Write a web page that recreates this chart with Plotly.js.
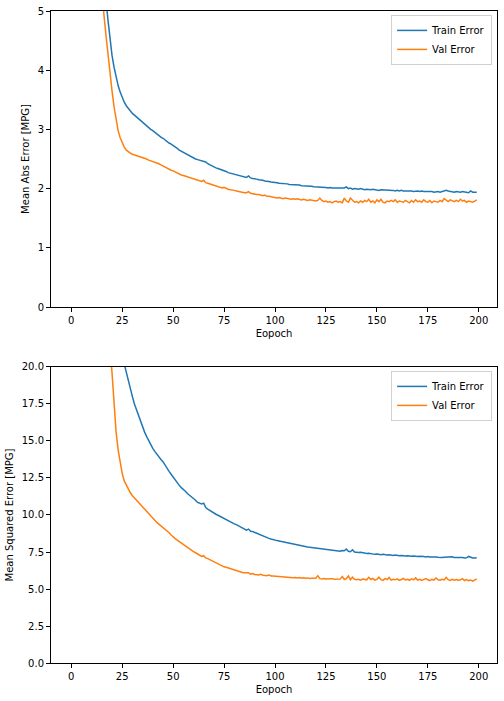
<!DOCTYPE html>
<html>
<head>
<meta charset="utf-8">
<script src="https://cdn.plot.ly/plotly-3.0.1.min.js"></script>
<style>
  html, body { margin: 0; padding: 0; background: #fff; }
  #chart { width: 504px; height: 701px; }
</style>
</head>
<body>
<div id="chart"></div>
<script>
// training history, one value per epoch (0..199)
var trainMae = [
    22.6, 22.2, 21.7, 21.0, 20.1, 19.0, 17.7, 16.2, 14.6, 12.9,
    11.3, 9.8, 8.5, 7.4, 6.6, 6.0, 5.55, 5.2, 4.85, 4.54,
    4.25, 4.05, 3.88, 3.74, 3.63, 3.53, 3.46, 3.40, 3.35, 3.31,
    3.27, 3.24, 3.21, 3.18, 3.15, 3.11, 3.08, 3.05, 3.03, 3.00,
    2.98, 2.95, 2.93, 2.90, 2.87, 2.85, 2.82, 2.80, 2.77, 2.75,
    2.73, 2.70, 2.68, 2.65, 2.63, 2.61, 2.59, 2.57, 2.55, 2.53,
    2.52, 2.50, 2.49, 2.48, 2.47, 2.46, 2.45, 2.42, 2.40, 2.38,
    2.37, 2.35, 2.34, 2.33, 2.31, 2.30, 2.29, 2.27, 2.26, 2.25,
    2.24, 2.23, 2.22, 2.21, 2.20, 2.19, 2.19, 2.215, 2.18, 2.17,
    2.17, 2.16, 2.15, 2.15, 2.14, 2.13, 2.13, 2.12, 2.11, 2.11,
    2.10, 2.10, 2.09, 2.09, 2.08, 2.08, 2.08, 2.07, 2.07, 2.07,
    2.06, 2.07, 2.06, 2.05, 2.05, 2.05, 2.04, 2.04, 2.04, 2.03,
    2.03, 2.03, 2.02, 2.03, 2.02, 2.02, 2.01, 2.02, 2.01, 2.01,
    2.00, 2.01, 2.00, 2.00, 2.01, 2.03, 2.00, 2.01, 1.99, 2.00,
    1.99, 1.99, 2.00, 1.99, 1.98, 1.99, 1.98, 1.98, 1.99, 1.98,
    1.98, 1.97, 1.98, 1.98, 1.97, 1.97, 1.98, 1.97, 1.97, 1.96,
    1.97, 1.96, 1.97, 1.96, 1.96, 1.97, 1.96, 1.96, 1.95, 1.96,
    1.96, 1.95, 1.96, 1.95, 1.95, 1.96, 1.95, 1.95, 1.94, 1.95,
    1.95, 1.94, 1.95, 1.95, 1.97, 1.96, 1.95, 1.94, 1.94, 1.95,
    1.94, 1.94, 1.95, 1.94, 1.94, 1.93, 1.96, 1.94, 1.94, 1.94
];

var valMae = [
    22.4, 22.0, 21.4, 20.6, 19.6, 18.4, 17.0, 15.4, 13.7, 12.0,
    10.3, 8.8, 7.6, 6.6, 5.9, 5.4, 4.95, 4.6, 4.25, 3.95,
    3.65, 3.38, 3.15, 2.98, 2.86, 2.77, 2.70, 2.65, 2.62, 2.60,
    2.58, 2.57, 2.56, 2.55, 2.54, 2.53, 2.52, 2.50, 2.48, 2.47,
    2.46, 2.45, 2.43, 2.42, 2.40, 2.38, 2.36, 2.35, 2.33, 2.31,
    2.30, 2.28, 2.27, 2.25, 2.23, 2.22, 2.21, 2.19, 2.18, 2.17,
    2.16, 2.15, 2.14, 2.13, 2.12, 2.14, 2.10, 2.09, 2.08, 2.07,
    2.06, 2.05, 2.04, 2.02, 2.01, 2.02, 2.00, 1.99, 1.98, 1.98,
    1.97, 1.96, 1.95, 1.95, 1.94, 1.93, 1.93, 1.95, 1.92, 1.91,
    1.91, 1.90, 1.90, 1.89, 1.88, 1.89, 1.87, 1.87, 1.86, 1.86,
    1.85, 1.84, 1.85, 1.84, 1.83, 1.84, 1.83, 1.83, 1.82, 1.83,
    1.82, 1.83, 1.82, 1.81, 1.82, 1.81, 1.80, 1.81, 1.80, 1.80,
    1.79, 1.80, 1.84, 1.80, 1.78, 1.79, 1.77, 1.78, 1.76, 1.78,
    1.79, 1.77, 1.78, 1.76, 1.84, 1.79, 1.77, 1.84, 1.80, 1.77,
    1.78, 1.76, 1.79, 1.77, 1.80, 1.78, 1.82, 1.77, 1.79, 1.76,
    1.81, 1.78, 1.82, 1.77, 1.76, 1.79, 1.78, 1.80, 1.78, 1.81,
    1.77, 1.79, 1.78, 1.77, 1.80, 1.78, 1.76, 1.80, 1.77, 1.81,
    1.78, 1.79, 1.77, 1.81, 1.78, 1.77, 1.80, 1.76, 1.79, 1.78,
    1.77, 1.80, 1.78, 1.83, 1.80, 1.78, 1.81, 1.79, 1.78, 1.80,
    1.78, 1.82, 1.79, 1.80, 1.77, 1.79, 1.78, 1.77, 1.79, 1.81
];

var trainMse = [
    575, 560, 540, 510, 470, 425, 375, 320, 265, 212,
    165, 128, 100, 80, 66, 56, 48, 42, 37, 33,
    29.5, 27.0, 24.8, 23.0, 21.9, 21.0, 20.2, 19.6, 19.0, 18.5,
    18.0, 17.5, 17.1, 16.7, 16.3, 15.9, 15.6, 15.3, 15.0, 14.7,
    14.5, 14.3, 14.1, 13.9, 13.75, 13.6, 13.35, 13.15, 12.95, 12.75,
    12.55, 12.4, 12.2, 12.0, 11.85, 11.75, 11.6, 11.45, 11.35, 11.25,
    11.1, 11.0, 10.85, 10.8, 10.75, 10.8, 10.5, 10.4, 10.3, 10.2,
    10.1, 10.05, 9.98, 9.9, 9.82, 9.75, 9.68, 9.6, 9.55, 9.48,
    9.4, 9.35, 9.28, 9.2, 9.15, 9.05, 8.98, 9.05, 8.9, 8.88,
    8.82, 8.75, 8.68, 8.63, 8.58, 8.53, 8.48, 8.42, 8.38, 8.33,
    8.30, 8.27, 8.24, 8.21, 8.17, 8.14, 8.10, 8.07, 8.04, 8.01,
    7.99, 7.97, 7.94, 7.91, 7.88, 7.86, 7.84, 7.82, 7.80, 7.78,
    7.76, 7.74, 7.72, 7.70, 7.69, 7.66, 7.64, 7.63, 7.62, 7.60,
    7.58, 7.56, 7.55, 7.60, 7.58, 7.70, 7.55, 7.52, 7.65, 7.50,
    7.47, 7.46, 7.48, 7.44, 7.42, 7.40, 7.42, 7.38, 7.36, 7.34,
    7.36, 7.33, 7.31, 7.34, 7.30, 7.29, 7.31, 7.28, 7.27, 7.30,
    7.26, 7.25, 7.27, 7.24, 7.23, 7.25, 7.22, 7.21, 7.23, 7.20,
    7.20, 7.22, 7.18, 7.19, 7.17, 7.20, 7.16, 7.17, 7.15, 7.16,
    7.14, 7.16, 7.13, 7.14, 7.15, 7.12, 7.14, 7.18, 7.12, 7.13,
    7.11, 7.13, 7.12, 7.10, 7.11, 7.20, 7.14, 7.10, 7.09, 7.11
];

var valMse = [
    565, 548, 525, 492, 450, 400, 345, 288, 232, 182,
    140, 106, 80, 61, 47, 37, 30, 26, 23.5, 21.5,
    19.6, 17.4, 15.6, 14.4, 13.5, 12.8, 12.3, 12.0, 11.75, 11.5,
    11.3, 11.15, 11.0, 10.85, 10.7, 10.55, 10.4, 10.2, 10.05, 9.9,
    9.75, 9.62, 9.5, 9.38, 9.27, 9.15, 9.05, 8.93, 8.8, 8.65,
    8.5, 8.4, 8.3, 8.2, 8.1, 8.0, 7.9, 7.78, 7.7, 7.6,
    7.52, 7.45, 7.38, 7.3, 7.2, 7.25, 7.1, 7.05, 6.98, 6.9,
    6.82, 6.75, 6.68, 6.6, 6.55, 6.5, 6.47, 6.42, 6.4, 6.35,
    6.3, 6.25, 6.2, 6.15, 6.12, 6.1, 6.08, 6.1, 6.0, 6.05,
    5.98, 5.96, 5.95, 6.0, 5.93, 5.92, 5.90, 5.95, 5.88, 5.87,
    5.86, 5.82, 5.84, 5.80, 5.83, 5.79, 5.81, 5.77, 5.80, 5.76,
    5.78, 5.74, 5.77, 5.73, 5.76, 5.72, 5.75, 5.71, 5.73, 5.70,
    5.72, 5.90, 5.70, 5.68, 5.71, 5.67, 5.69, 5.66, 5.70, 5.66,
    5.68, 5.65, 5.67, 5.85, 5.64, 5.70, 5.88, 5.62, 5.80, 5.66,
    5.63, 5.66, 5.60, 5.68, 5.65, 5.62, 5.79, 5.64, 5.72, 5.60,
    5.65, 5.80, 5.63, 5.58, 5.70, 5.64, 5.78, 5.60, 5.66, 5.62,
    5.68, 5.58, 5.64, 5.72, 5.61, 5.66, 5.59, 5.69, 5.62, 5.75,
    5.60, 5.66, 5.58, 5.64, 5.70, 5.62, 5.57, 5.66, 5.60, 5.74,
    5.62, 5.59, 5.65, 5.61, 5.78, 5.63, 5.58, 5.66, 5.60, 5.64,
    5.59, 5.62, 5.70, 5.57, 5.63, 5.56, 5.61, 5.53, 5.58, 5.68
];

var epochTicks = [0, 25, 50, 75, 100, 125, 150, 175, 200];
var maeTicks = [0, 1, 2, 3, 4, 5];
var mseTicks = [0, 2.5, 5, 7.5, 10, 12.5, 15, 17.5, 20];

var epochs = [];
for (var i = 0; i < trainMae.length; i++) {
    epochs.push(i);
}

var blue = '#1f77b4';
var orange = '#ff7f0e';
var font = { family: 'DejaVu Sans, sans-serif', size: 10, color: '#000' };

function line(y, name, color, xa, ya, legend) {
    return {
        x: epochs,
        y: y,
        name: name,
        type: 'scatter',
        mode: 'lines',
        line: { color: color, width: 1.5 },
        xaxis: xa,
        yaxis: ya,
        legend: legend,
        hoverinfo: 'x+y'
    };
}

function xAxis(anchor) {
    return {
        anchor: anchor,
        domain: [0, 1],
        range: [-9.95, 208.95],
        tickvals: epochTicks,
        ticks: 'outside',
        ticklen: 4,
        tickwidth: 1,
        tickcolor: '#000',
        showline: true,
        mirror: true,
        linecolor: '#000',
        linewidth: 1,
        showgrid: false,
        zeroline: false,
        tickfont: font,
        title: { text: 'Eopoch', font: font, standoff: 4 }
    };
}

function yAxis(anchor, domain, range, ticks, fmt, title) {
    return {
        anchor: anchor,
        domain: domain,
        range: range,
        tickvals: ticks,
        tickformat: fmt,
        ticks: 'outside',
        ticklen: 4,
        tickwidth: 1,
        tickcolor: '#000',
        showline: true,
        mirror: true,
        linecolor: '#000',
        linewidth: 1,
        showgrid: false,
        zeroline: false,
        tickfont: font,
        title: { text: title, font: font, standoff: 6 }
    };
}

var legendStyle = function (y) {
    return {
        x: 0.989,
        xanchor: 'right',
        y: y,
        yanchor: 'top',
        bgcolor: 'rgba(255,255,255,0.8)',
        bordercolor: '#d0d0d0',
        borderwidth: 1,
        font: font,
        tracegroupgap: 0,
        itemwidth: 30
    };
};

var data = [
    line(trainMae, 'Train Error', blue, 'x', 'y', 'legend'),
    line(valMae, 'Val Error', orange, 'x', 'y', 'legend'),
    line(trainMse, 'Train Error', blue, 'x2', 'y2', 'legend2'),
    line(valMse, 'Val Error', orange, 'x2', 'y2', 'legend2')
];

var layout = {
    width: 504,
    height: 701,
    margin: { l: 51, r: 7, t: 11, b: 38 },
    paper_bgcolor: '#fff',
    plot_bgcolor: '#fff',
    font: font,
    showlegend: true,
    xaxis: xAxis('y'),
    yaxis: yAxis('x', [0.546, 1], [0, 5], maeTicks, 'd', 'Mean Abs Error [MPG]'),
    xaxis2: xAxis('y2'),
    yaxis2: yAxis('x2', [0, 0.454], [0, 20], mseTicks, '.1f', 'Mean Squared Error [MPG]'),
    legend: legendStyle(0.994),
    legend2: legendStyle(0.448)
};

Plotly.newPlot('chart', data, layout, { displayModeBar: false, staticPlot: true });
</script>
</body>
</html>
